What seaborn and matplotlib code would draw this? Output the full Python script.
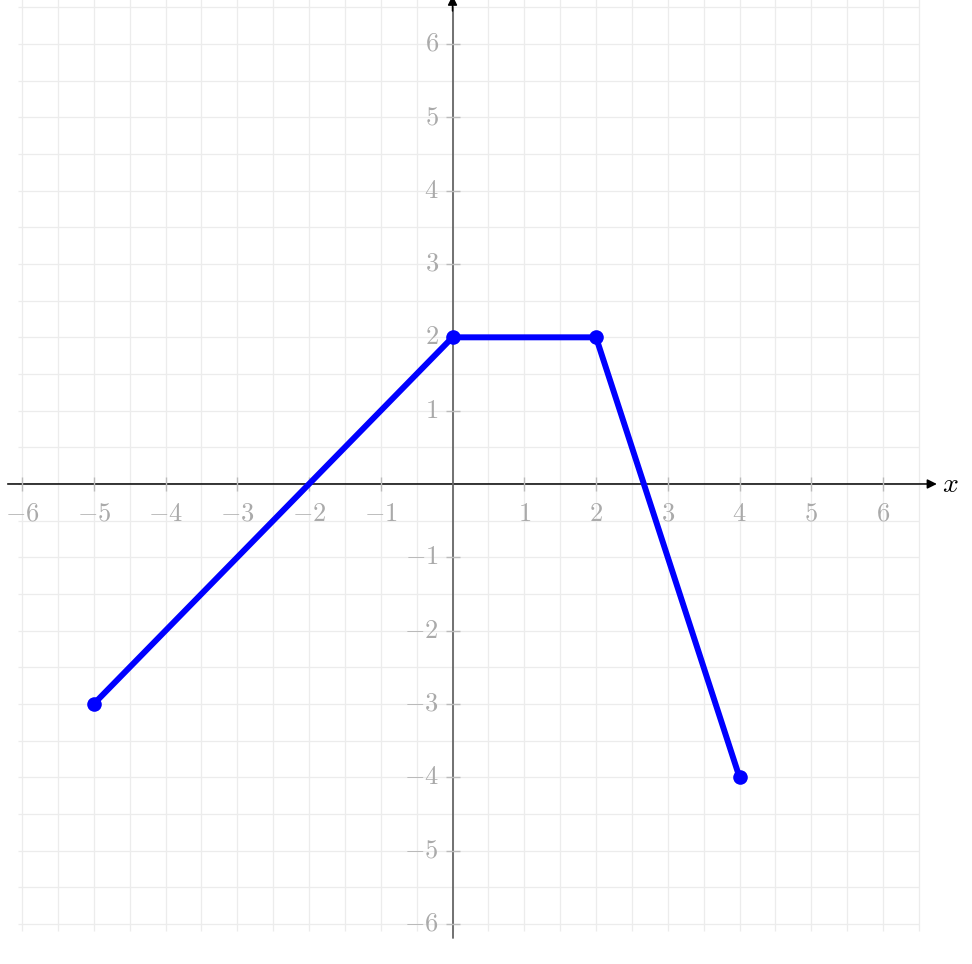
import numpy as np
import pandas as pd
import matplotlib
matplotlib.use("Agg")
import matplotlib.pyplot as plt
import seaborn as sns

# piecewise linear function, endpoints
x_vals = [-5, 0, 2, 4]
y_vals = [-3, 2, 2, -4]

# tick labels on both axes (0 is left out)
x_ticks = [-6, -5, -4, -3, -2, -1, 1, 2, 3, 4, 5, 6]
y_ticks = [-6, -5, -4, -3, -2, -1, 1, 2, 3, 4, 5, 6]

sns.set_style("white")
plt.rcParams["mathtext.fontset"] = "cm"

fig = plt.figure(figsize=(9.72, 9.64), dpi=100)
ax = fig.add_axes([0, 0, 1, 1])
ax.set_xlim(-6.307, 7.240)
ax.set_ylim(-6.546, 6.600)
ax.axis("off")

# light grid on half units
grid_pos = np.arange(-6, 6.51, 0.5)
ax.vlines(grid_pos, -6.1, 6.7, color="#ececec", lw=0.9, zorder=0)
ax.hlines(grid_pos, -6.06, 6.5, color="#ececec", lw=0.9, zorder=0)

# axes with arrows
ax.annotate("", xy=(6.75, 0), xytext=(-6.2, 0), annotation_clip=False,
            arrowprops=dict(arrowstyle="-|>", color="black", lw=1.1,
                            mutation_scale=14, shrinkA=0, shrinkB=0), zorder=2)
ax.plot([0, 0], [-6.19, 6.5], color="#666666", lw=1.3, zorder=2)
ax.annotate("", xy=(0, 6.66), xytext=(0, 6.45), annotation_clip=False,
            arrowprops=dict(arrowstyle="-|>", color="black", lw=1.1,
                            mutation_scale=14, shrinkA=0, shrinkB=0), zorder=2)
ax.text(6.82, 0, "$x$", fontsize=20, ha="left", va="center", color="black")

# tick marks
ax.plot(x_ticks, [0] * len(x_ticks), ls="none", marker="|", ms=10,
        mew=1.0, color="#bbbbbb", zorder=3)
ax.plot([0] * len(y_ticks), y_ticks, ls="none", marker="_", ms=10,
        mew=1.0, color="#bbbbbb", zorder=3)

for v in x_ticks:
    ax.annotate(f"${v}$", xy=(v, 0), xytext=(0, -12), textcoords="offset points",
                ha="center", va="top", fontsize=19, color="#aaaaaa")
for v in y_ticks:
    ax.annotate(f"${v}$", xy=(0, v), xytext=(-10, 0), textcoords="offset points",
                ha="right", va="center", fontsize=19, color="#aaaaaa")

# the function
df = pd.DataFrame({"x": x_vals, "y": y_vals})
sns.lineplot(data=df, x="x", y="y", sort=False, color="#0000ff", lw=4.3,
             marker="o", ms=10.5, mec="#0000ff", mew=0, ax=ax, zorder=4)
ax.axis("off")

fig.savefig("out.png", dpi=100)
